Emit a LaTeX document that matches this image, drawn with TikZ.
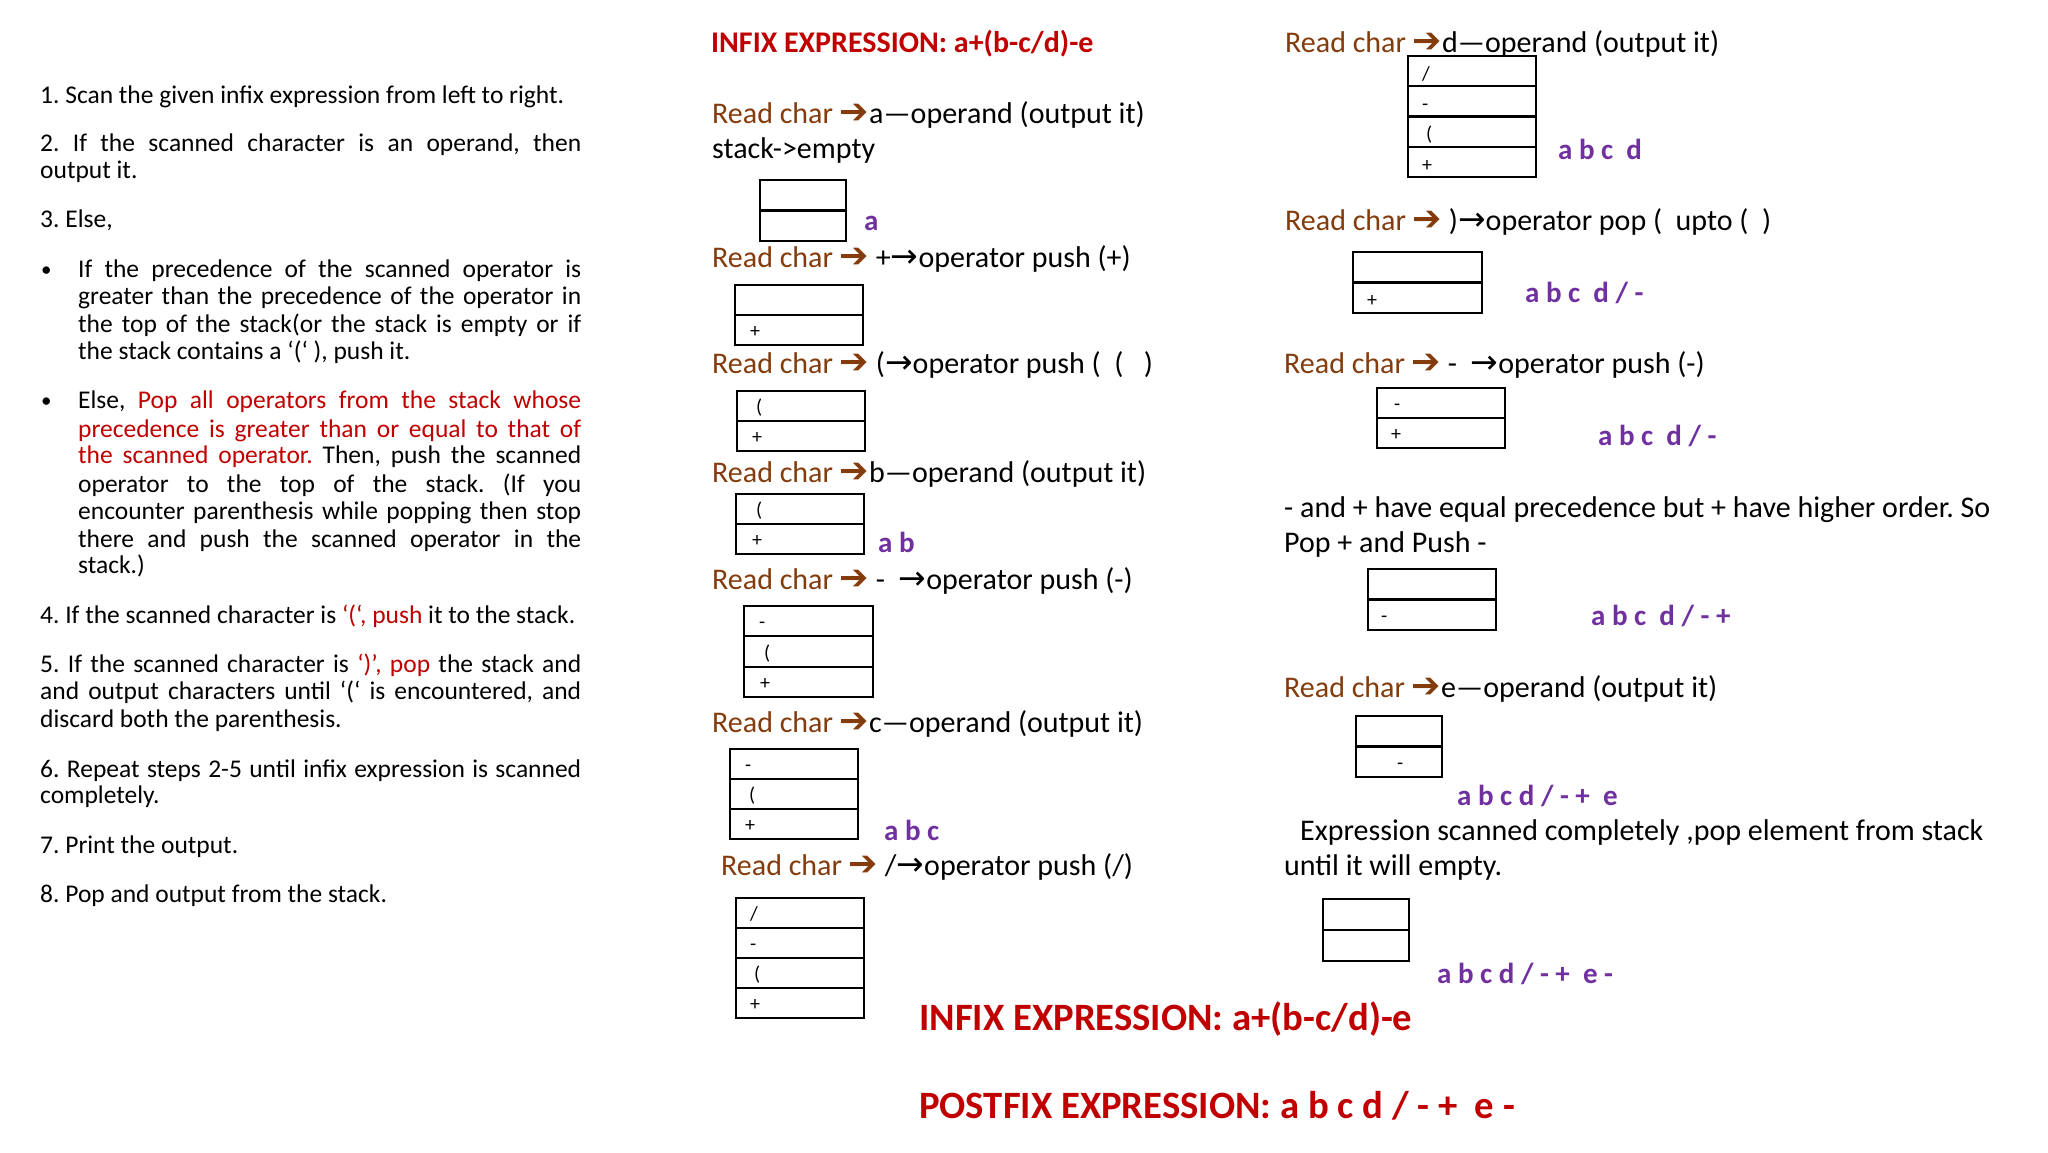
\documentclass[tikz,border=0pt]{standalone}
\usepackage{fontspec}
\setmainfont{Carlito}
\newfontfamily\dvsans{DejaVu Sans}
\definecolor{rcbrown}{HTML}{843C0C}
\definecolor{darkred}{HTML}{C00000}
\definecolor{purp}{HTML}{7030A0}
\newcommand{\rc}{\textcolor{rcbrown}{Read char {\dvsans\fontsize{35}{35}\selectfont ➔}}}
\newcommand{\thinarr}{{\dvsans\fontsize{33}{33}\selectfont →}}
\newcommand{\redt}[1]{\textcolor{darkred}{#1}}
\newcommand{\jl}[2]{\makebox[#1][s]{#2}}
\newcommand{\stk}[5]{\foreach \i in {1,...,#5}{\draw[cellbox] (#1,{#3+(\i-1)*#4}) rectangle (#2,{#3+\i*#4});}}
\frenchspacing
\tikzset{
  lefttxt/.style={anchor=base west, inner sep=0pt, font=\fontsize{25.5}{27}\selectfont},
  bullettxt/.style={anchor=base west, inner sep=0pt, font=\fontsize{21}{27}\selectfont},
  midtxt/.style={anchor=base west, inner sep=0pt, font=\fontsize{30}{32}\selectfont},
  outtxt/.style={anchor=base west, inner sep=0pt, text=purp, font=\fontsize{29}{32}\selectfont\bfseries},
  ttl/.style={anchor=base west, inner sep=0pt, text=darkred, font=\fontsize{30}{32}\selectfont\bfseries},
  bigtxt/.style={anchor=base west, inner sep=0pt, text=darkred, font=\fontsize{38.7}{40}\selectfont\bfseries},
  cellbox/.style={draw=black, line width=2.2pt},
  celltxt/.style={anchor=base west, inner sep=0pt, font=\fontsize{20}{20}\selectfont},
}
\begin{document}
\begin{tikzpicture}[x=1pt,y=-1pt]
\fill[white] (0,0) rectangle (2048,1152);
\useasboundingbox (0,0) rectangle (2048,1152);
% ---------- left column ----------
\node[lefttxt] (s1) at (40,103) {1. Scan the given infix expression from left to right.};
\node[lefttxt] (s2a) at (40,151) {\jl{541pt}{2. If the scanned character is an operand, then}};
\node[lefttxt] (s2b) at (40,178) {output it.};
\node[lefttxt] (s3) at (40,227) {3. Else,};
\node[bullettxt] (bu1) at (41,276) {•};
\node[lefttxt] (s4a) at (78,277) {\jl{503pt}{If the precedence of the scanned operator is}};
\node[lefttxt] (s4b) at (78,304) {\jl{503pt}{greater than the precedence of the operator in}};
\node[lefttxt] (s4c) at (78,332) {\jl{503pt}{the top of the stack(or the stack is empty or if}};
\node[lefttxt] (s4d) at (78,359) {the stack contains a ‘(‘ ), push it.};
\node[bullettxt] (bu2) at (41,407) {•};
\node[lefttxt] (s5a) at (78,408) {\jl{503pt}{Else, \redt{Pop all operators from the stack whose}}};
\node[lefttxt] (s5b) at (78,437) {\jl{503pt}{\redt{precedence is greater than or equal to that of}}};
\node[lefttxt] (s5c) at (78,463) {\jl{503pt}{\redt{the scanned operator.} Then, push the scanned}};
\node[lefttxt] (s5d) at (78,492) {\jl{503pt}{operator to the top of the stack. (If you}};
\node[lefttxt] (s5e) at (78,519) {\jl{503pt}{encounter parenthesis while popping then stop}};
\node[lefttxt] (s5f) at (78,547) {\jl{503pt}{there and push the scanned operator in the}};
\node[lefttxt] (s5g) at (78,573) {stack.)};
\node[lefttxt] (s6) at (40,623) {4. If the scanned character is \redt{‘(‘, push} it to the stack.};
\node[lefttxt] (s7a) at (40,672) {\jl{541pt}{5. If the scanned character is \redt{‘)’, pop} the stack and}};
\node[lefttxt] (s7b) at (40,699) {\jl{541pt}{and output characters until ‘(‘ is encountered, and}};
\node[lefttxt] (s7c) at (40,727) {discard both the parenthesis.};
\node[lefttxt] (s8a) at (40,777) {\jl{541pt}{6. Repeat steps 2-5 until infix expression is scanned}};
\node[lefttxt] (s8b) at (40,803) {completely.};
\node[lefttxt] (s9) at (40,853) {7. Print the output.};
\node[lefttxt] (s10) at (40,902) {8. Pop and output from the stack.};
% ---------- middle column ----------
\node[ttl] (t1) at (711,52) {INFIX EXPRESSION: a+(b-c/d)-e};
\node[midtxt] (r1) at (712,123) {\rc a—operand (output it)};
\node[midtxt] (se) at (712,158) {stack->empty};
\stk{760}{846}{180}{30.5}{2}
\node[outtxt] (o1) at (864,230) {a};
\node[midtxt] (r2) at (712,267) {\rc{} +\thinarr{}operator push (+)};
\stk{735}{863}{285}{30}{2}
\node[celltxt] (c2a) at (750,337) {+};
\node[midtxt] (r3) at (712,373) {\rc{} (\thinarr{}operator push (\ \ (\ \ \ )};
\stk{737}{865}{391}{30}{2}
\node[celltxt] (c3a) at (756,413) {(};
\node[celltxt] (c3b) at (752,443) {+};
\node[midtxt] (r4) at (712,482) {\rc{}b—operand (output it)};
\stk{736}{864}{494}{30}{2}
\node[celltxt] (c4a) at (756,516) {(};
\node[celltxt] (c4b) at (752,546) {+};
\node[outtxt] (o2) at (878,552) {a b};
\node[midtxt] (r5) at (712,589) {\rc{} - \ \thinarr{}operator push (-)};
\stk{744}{873}{606}{30.3}{3}
\node[celltxt] (c5a) at (759,628) {-};
\node[celltxt] (c5b) at (764,659) {(};
\node[celltxt] (c5c) at (760,689) {+};
\node[midtxt] (r6) at (712,732) {\rc{}c—operand (output it)};
\stk{730}{858}{749}{30}{3}
\node[celltxt] (c6a) at (745,771) {-};
\node[celltxt] (c6b) at (749,801) {(};
\node[celltxt] (c6c) at (745,831) {+};
\node[outtxt] (o3) at (884,840) {a b c};
\node[midtxt] (r7) at (721,875) {\rc{} /\thinarr{}operator push (/)};
\stk{736}{864}{898}{30}{4}
\node[celltxt] (c7a) at (750,920) {/};
\node[celltxt] (c7b) at (750,950) {-};
\node[celltxt] (c7c) at (754,980) {(};
\node[celltxt] (c7d) at (750,1010) {+};
\node[bigtxt] (t2) at (919,1030) {INFIX EXPRESSION: a+(b-c/d)-e};
\node[bigtxt] (t3) at (919,1118) {POSTFIX EXPRESSION: a b c d / - + \ e -};
% ---------- right column ----------
\node[midtxt] (r8) at (1285,52) {\rc{}d—operand (output it)};
\stk{1408}{1536}{56}{30.25}{4}
\node[celltxt] (c8a) at (1422,80) {/};
\node[celltxt] (c8b) at (1422,110) {-};
\node[celltxt] (c8c) at (1426,140) {(};
\node[celltxt] (c8d) at (1422,171) {+};
\node[outtxt] (o4) at (1558,159) {a b c\ \ d};
\node[midtxt] (r9) at (1285,230) {\rc{} )\thinarr{}operator pop (\ \ upto (\ \ )};
\stk{1353}{1482}{252}{30.5}{2}
\node[celltxt] (c9a) at (1367,306) {+};
\node[outtxt] (o5) at (1525,302) {a b c\ \ d / -};
\node[midtxt] (r10) at (1284,373) {\rc{} - \ \thinarr{}operator push (-)};
\stk{1377}{1505}{388}{30}{2}
\node[celltxt] (c10a) at (1394,410) {-};
\node[celltxt] (c10b) at (1391,440) {+};
\node[outtxt] (o6) at (1598,445) {a b c\ \ d / -};
\node[midtxt] (n1) at (1284,517) {- and + have equal precedence but + have higher order. So};
\node[midtxt] (n2) at (1284,552) {Pop + and Push -};
\stk{1368}{1496}{569}{30.5}{2}
\node[celltxt] (c11a) at (1381,622) {-};
\node[outtxt] (o7) at (1591,625) {a b c\ \ d / - +};
\node[midtxt] (r11) at (1284,697) {\rc{}e—operand (output it)};
\stk{1356}{1442}{716}{30.5}{2}
\node[celltxt] (c12a) at (1397,769) {-};
\node[outtxt] (o8) at (1457,805) {a b c d / - + \ e};
\node[midtxt] (n3) at (1300,840) {Expression scanned completely ,pop element from stack};
\node[midtxt] (n4) at (1284,875) {until it will empty.};
\stk{1323}{1409}{899}{31}{2}
\node[outtxt] (o9) at (1437,983) {a b c d / - + \ e -};
\end{tikzpicture}
\end{document}
